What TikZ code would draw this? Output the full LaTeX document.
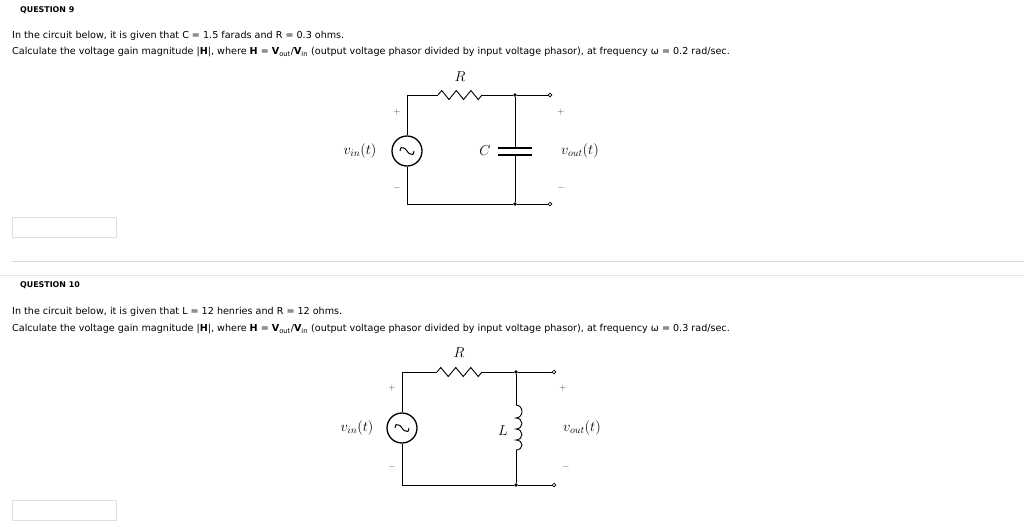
\documentclass[tikz,border=0pt]{standalone}
\usepackage{fontspec}
\setsansfont{DejaVu Sans}
\begin{document}
\begin{tikzpicture}[x=1pt,y=-1pt,
  txt/.style={anchor=west,inner sep=0,font=\sffamily\fontsize{9.6}{11}\selectfont},
  ttl/.style={anchor=west,inner sep=0,font=\sffamily\bfseries\fontsize{7.9}{9}\selectfont},
  wire/.style={line width=0.9pt},
  dot/.style={circle,fill,inner sep=1.4pt},
  term/.style={circle,draw,fill=white,inner sep=1.3pt,line width=0.6pt},
  lab/.style={inner sep=0,font=\fontsize{14.5}{16}\selectfont},
  src/.style={circle,draw,line width=1.3pt,minimum size=30pt,inner sep=0},
  sign/.style={inner sep=0,font=\small,text=black!70}]
\useasboundingbox (0,0) rectangle (1024,525);
\fill[white] (0,0) rectangle (1024,525);
% texts
\node[ttl] (q9) at (20,10) {QUESTION 9};
\node[txt] (t1) at (12,36) {In the circuit below, it is given that C = 1.5 farads and R = 0.3 ohms.};
\node[txt] (t2) at (12,52) {Calculate the voltage gain magnitude |\textbf{H}|, where \textbf{H} = \textbf{V}\textsubscript{out}/\textbf{V}\textsubscript{in} (output voltage phasor divided by input voltage phasor), at frequency ω = 0.2 rad/sec.};
\node[ttl] (q10) at (20,285) {QUESTION 10};
\node[txt] (t3) at (12,312) {In the circuit below, it is given that L = 12 henries and R = 12 ohms.};
\node[txt] (t4) at (12,329) {Calculate the voltage gain magnitude |\textbf{H}|, where \textbf{H} = \textbf{V}\textsubscript{out}/\textbf{V}\textsubscript{in} (output voltage phasor divided by input voltage phasor), at frequency ω = 0.3 rad/sec.};
\draw[black!12] (12,217) rectangle (116,237);
\draw[black!12] (12,500) rectangle (116,520);
\draw[black!15,line width=0.8pt] (12,261) -- (1024,261);
\draw[black!10,line width=0.8pt] (0,275) -- (1024,275);
% circuit 1
\node[src] (s1) at (407,151) {};
\draw[line width=1pt] ([xshift=-7]s1.center) .. controls +(1,-5) and +(-2.5,0) .. ([xshift=-3.5,yshift=3]s1.center) .. controls +(3,0) and +(-3,0) .. ([xshift=3.5,yshift=-3]s1.center) .. controls +(2.5,0) and +(-1,5) .. ([xshift=7]s1.center);
\coordinate (a1) at (438,95); \coordinate (b1) at (482,95);
\node[dot] (j1) at (515,95) {}; \node[dot] (k1) at (515,204) {};
\node[term] (o1) at (550,95) {}; \node[term] (p1) at (550,204) {};
\draw[wire] (s1.north) |- (a1);
\draw[wire] (a1) -- ++(3.7,-4.5) -- ++(7.3,9) -- ++(7.3,-9) -- ++(7.3,9) -- ++(7.3,-9) -- ++(7.3,9) -- (b1);
\draw[wire] (b1) -- (j1) -- (o1);
\draw[wire] (s1.south) |- (k1) -- (p1);
\coordinate (c1) at (515,148); \coordinate (c2) at (515,155);
\draw[wire] (j1) -- (c1); \draw[wire] (c2) -- (k1);
\draw[line width=1.6pt] (498,148) -- (532,148);
\draw[line width=1.6pt] (498,155) -- (532,155);
\node[lab] (R1) at (460,77) {$R$};
\node[lab] (C1) at (485,151) {$C$};
\node[lab] (vi1) at (360,151) {$v_{in}(t)$};
\node[lab] (vo1) at (580,151) {$v_{out}(t)$};
\node[sign] at (397,112) {$+$}; \node[sign] at (561,112) {$+$};
\node[sign] at (397,188) {$-$}; \node[sign] at (561,188) {$-$};
% circuit 2
\node[src] (s2) at (402,428) {};
\draw[line width=1pt] ([xshift=-7]s2.center) .. controls +(1,-5) and +(-2.5,0) .. ([xshift=-3.5,yshift=3]s2.center) .. controls +(3,0) and +(-3,0) .. ([xshift=3.5,yshift=-3]s2.center) .. controls +(2.5,0) and +(-1,5) .. ([xshift=7]s2.center);
\coordinate (a2) at (437,372); \coordinate (b2) at (482,372);
\node[dot] (j2) at (516,372) {}; \node[dot] (k2) at (516,485) {};
\node[term] (o2) at (554,372) {}; \node[term] (p2) at (554,485) {};
\draw[wire] (s2.north) |- (a2);
\draw[wire] (a2) -- ++(3.75,-4.5) -- ++(7.5,9) -- ++(7.5,-9) -- ++(7.5,9) -- ++(7.5,-9) -- ++(7.5,9) -- (b2);
\draw[wire] (b2) -- (j2) -- (o2);
\draw[wire] (s2.south) |- (k2) -- (p2);
\coordinate (l1) at (516,405); \coordinate (l2) at (516,450);
\draw[wire] (j2) -- (l1); \draw[wire] (l2) -- (k2);
\draw[wire] (l1) arc[start angle=-90,end angle=90,x radius=6,y radius=6.5]
  arc[start angle=-90,end angle=90,x radius=6,y radius=5.5]
  arc[start angle=-90,end angle=90,x radius=6,y radius=5.5]
  arc[start angle=-90,end angle=90,x radius=6,y radius=5];
\node[lab] (R2) at (459,353) {$R$};
\node[lab] (L2) at (503,431) {$L$};
\node[lab] (vi2) at (357,428) {$v_{in}(t)$};
\node[lab] (vo2) at (582,428) {$v_{out}(t)$};
\node[sign] at (392,388) {$+$}; \node[sign] at (563,388) {$+$};
\node[sign] at (392,467) {$-$}; \node[sign] at (566,467) {$-$};
\end{tikzpicture}
\end{document}
